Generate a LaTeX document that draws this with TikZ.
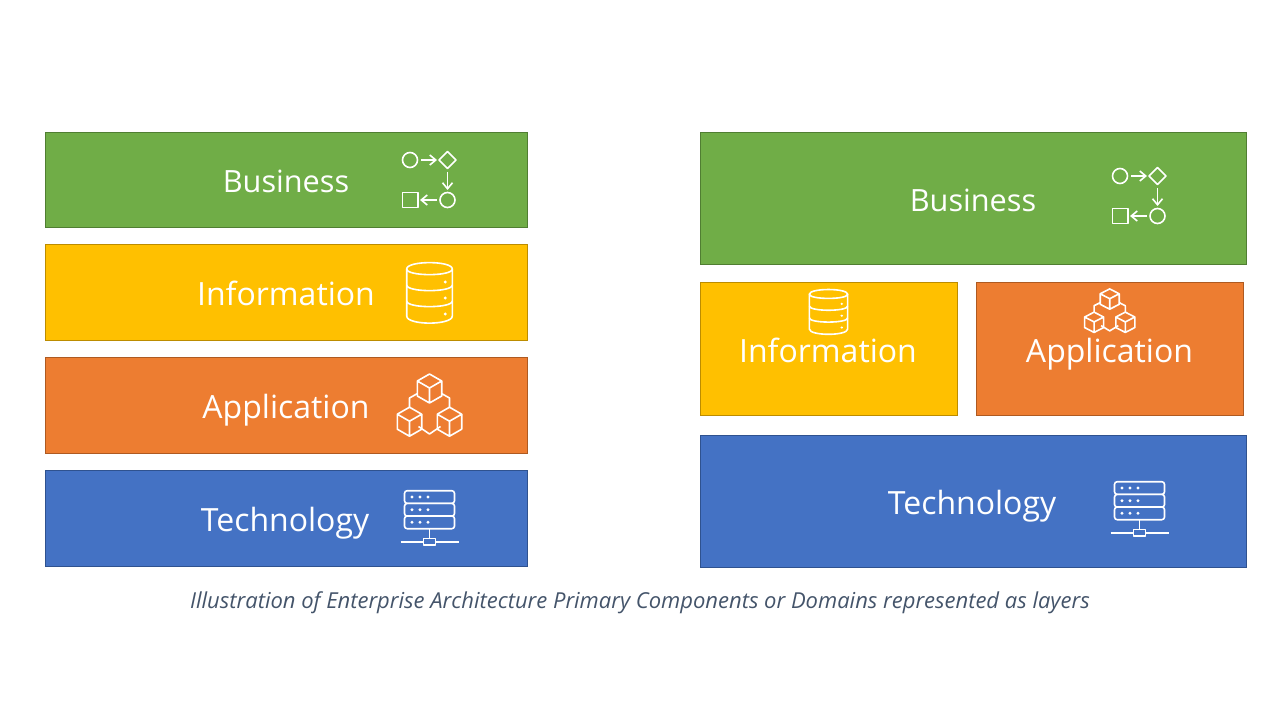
\documentclass[tikz,border=0pt]{standalone}
\usepackage{fontspec}
\usetikzlibrary{arrows.meta}
\setmainfont{Open Sans}
\definecolor{cgreen}{HTML}{70AD47}\definecolor{dgreen}{HTML}{507E32}
\definecolor{cyellow}{HTML}{FFC000}\definecolor{dyellow}{HTML}{BC8C00}
\definecolor{corange}{HTML}{ED7D31}\definecolor{dorange}{HTML}{AE5A21}
\definecolor{cblue}{HTML}{4472C4}\definecolor{dblue}{HTML}{2F528F}
\definecolor{capt}{HTML}{44546A}
\newcommand{\cubeshape}[2]{%
  \draw[ico,shift={(#1,#2)}] (0,-14.5)--(12.2,-7.5)--(12.2,7.5)--(0,14.5)--(-12.2,7.5)--(-12.2,-7.5)--cycle
    (-12.2,-7.5)--(0,-0.5)--(12.2,-7.5) (0,-0.5)--(0,14.5);}
\tikzset{
  x=0.75pt,y=-0.75pt,
  layer/.style={draw=#1,line width=0.75pt},
  lbl/.style={text=white,font=\fontsize{24}{28}\selectfont,inner sep=0pt,anchor=base},
  lblb/.style={lbl,font=\fontsize{23}{27}\selectfont},
  ico/.style={draw=white,line width=1.2pt,line join=round},
  icoarrow/.style={draw=white,line width=1.2pt,-{Straight Barb[length=4.5pt,width=7.5pt]}},
  pics/process/.style={code={
    \draw[ico] (-19,-20) circle[radius=7.5];
    \draw[ico] (18.5,-28.5)--(27,-20)--(18.5,-11.5)--(10,-20)--cycle;
    \draw[ico] (18.5,20) circle[radius=7.5];
    \draw[ico] (-26.5,12.5) rectangle (-11,27.5);
    \draw[icoarrow] (-8,-20)--(8,-20);
    \draw[icoarrow] (18.5,-8)--(18.5,10);
    \draw[icoarrow] (8,20)--(-9,20);
  }},
  pics/database/.style={code={
    \draw[ico] (-22.8,-24) .. controls (-22.8,-32.5) and (22.8,-32.5) .. (22.8,-24)
      .. controls (22.8,-16.5) and (-22.8,-16.5) .. (-22.8,-24) -- cycle;
    \draw[ico] (-22.8,-24) -- (-22.8,23) .. controls (-22.8,32.5) and (22.8,32.5) .. (22.8,23) -- (22.8,-24);
    \draw[ico] (-22.8,-8) .. controls (-22.8,-0.5) and (22.8,-0.5) .. (22.8,-8);
    \draw[ico] (-22.8,8) .. controls (-22.8,15.5) and (22.8,15.5) .. (22.8,8);
    \foreach \yy in {-11,5,21}{\fill[white] (15.8,\yy) circle[radius=1.6];}
  }},
  pics/cubes/.style={code={
    \cubeshape{0}{-16.5}
    \cubeshape{-20}{16.7}
    \cubeshape{20}{16.7}
    \draw[ico] (-20,2)--(-20,-7)--(-12,-11.5);
    \draw[ico] (20,2)--(20,-7)--(12,-11.5);
    \draw[ico] (-11,21.5)--(0,29)--(11,21.5);
  }},
  pics/servers/.style={code={
    \foreach \yy in {-27.3,-14.6,-2}{
      \draw[ico,rounded corners=2pt] (-25,\yy) rectangle (25,\yy+12.7);
      \foreach \xx in {-17.5,-9.5,-1.5}{\fill[white] (\xx,\yy+6.3) circle[radius=1.6];}
    }
    \draw[ico] (0,11)--(0,20.3);
    \draw[ico] (-29,23.7)--(-6,23.7) (6,23.7)--(29,23.7);
    \draw[ico] (-6,20.3) rectangle (6,27);
  }}
}
\begin{document}
\begin{tikzpicture}
\useasboundingbox (0,0) rectangle (1280,720);
% left stack
\path[fill=cgreen,layer=dgreen] (45,132.5) rectangle (527.5,227.5);
\path[fill=cyellow,layer=dyellow] (45,244.5) rectangle (527.5,340.5);
\path[fill=corange,layer=dorange] (45,357.5) rectangle (527.5,453.5);
\path[fill=cblue,layer=dblue] (45,470.5) rectangle (527.5,566.5);
% right stack
\path[fill=cgreen,layer=dgreen] (700.5,132.5) rectangle (1246.5,264.5);
\path[fill=cyellow,layer=dyellow] (700.5,282) rectangle (957.5,415.5);
\path[fill=corange,layer=dorange] (976,282) rectangle (1243.5,415.5);
\path[fill=cblue,layer=dblue] (700.5,435) rectangle (1246.5,567.5);
% labels
\node[lblb] (lb) at (286,193) {Business};
\node[lbl] (li) at (286,305.5) {Information};
\node[lbl] (la) at (286,418) {Application};
\node[lbl] (lt) at (285,531) {Technology};
\node[lblb] (rb) at (973,212) {Business};
\node[lbl] (ri) at (828,362) {Information};
\node[lbl] (ra) at (1109.5,362) {Application};
\node[lbl] (rt) at (972,514.5) {Technology};
% icons
\pic at (429,180) {process};
\pic at (429.5,293) {database};
\pic at (429.5,405) {cubes};
\pic at (429.5,518) {servers};
\pic at (1139,196) {process};
\pic[xscale=0.84,yscale=0.74] at (828.5,312) {database};
\pic[xscale=0.78,yscale=0.70] at (1109.7,310.6) {cubes};
\pic at (1139.5,509) {servers};
% caption
\node[text=capt,font=\fontsize{16.5}{20}\selectfont\itshape,inner sep=0pt,anchor=base] (cap) at (640,608.5) {Illustration of Enterprise Architecture Primary Components or Domains represented as layers};
\end{tikzpicture}
\end{document}
